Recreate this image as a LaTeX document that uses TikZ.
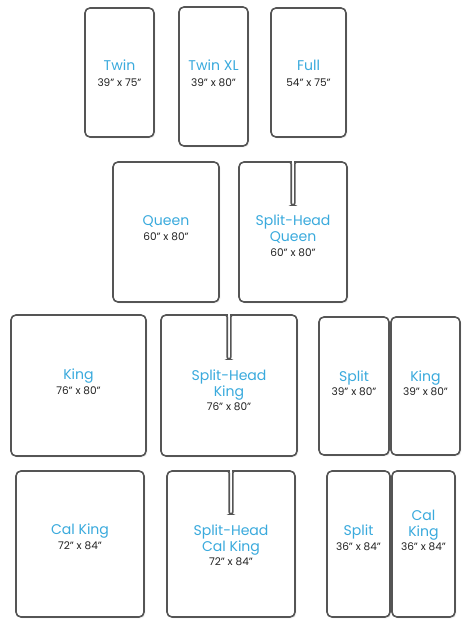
\documentclass[tikz,border=0pt]{standalone}
\usepackage{fontspec}
\setmainfont{Poppins}
\usetikzlibrary{calc, shadows}
\definecolor{bedgray}{HTML}{555555}
\definecolor{namecyan}{HTML}{3AAADD}
\definecolor{sizegray}{HTML}{222222}
\tikzstyle{bed} = [rectangle, rounded corners=3.5pt, draw=bedgray, line width=0.4mm, fill=white, inner sep=0pt, outer sep=0pt, drop shadow={shadow xshift=0.35mm, shadow yshift=-0.35mm, opacity=0.12}]
\tikzstyle{bedname} = [anchor=base, inner sep=0pt, align=center, text=namecyan, font=\fontsize{10}{10.7}\selectfont]
\tikzstyle{bedsize} = [anchor=base, inner sep=0pt, text=sizegray, font=\fontsize{7.5}{9}\selectfont]
\tikzstyle{notch} = [draw=bedgray, line width=0.4mm, rounded corners=1.5pt]
\tikzset{wh/.style 2 args={minimum width=#1*0.25mm, minimum height=#2*0.25mm}}

\begin{document}
\begin{tikzpicture}[x=0.25mm, y=-0.25mm]
    \fill[white] (0,0) rectangle (474,634);
    \useasboundingbox (0,0) rectangle (474,634);

    % first row
    \node (twin) [bed, wh={69}{129}] at (119.5,72.5) {};
    \node (twinxl) [bed, wh={69}{139}] at (213.5,76.5) {};
    \node (full) [bed, wh={75}{129}] at (308.5,72.5) {};

    \node (twin-name) [bedname] at (119.5,71) {Twin};
    \node (twin-size) [bedsize] at (119.5,87) {39” x 75”};
    \node (twinxl-name) [bedname] at (213.5,71) {Twin XL};
    \node (twinxl-size) [bedsize] at (213.5,87) {39” x 80”};
    \node (full-name) [bedname] at (308.5,71) {Full};
    \node (full-size) [bedsize] at (308.5,87) {54” x 75”};

    % second row
    \node (queen) [bed, wh={106}{140}] at (166,232) {};
    \node (shqueen) [bed, wh={108}{140}] at (293,232) {};

    \node (queen-name) [bedname] at (166,225) {Queen};
    \node (queen-size) [bedsize] at (166,240) {60” x 80”};
    \node (shqueen-name) [bedname] at (293,241) {Split-Head\\Queen};
    \node (shqueen-size) [bedsize] at (293,256) {60” x 80”};

    % third row
    \node (king) [bed, wh={135}{141}] at (78.5,385.5) {};
    \node (shking) [bed, wh={136}{141}] at (229,385.5) {};
    \node (splitk) [bed, wh={70}{138}] at (354,386) {};
    \node (kingk) [bed, wh={69}{138}] at (425.5,386) {};

    \node (king-name) [bedname] at (78.5,379) {King};
    \node (king-size) [bedsize] at (78.5,394) {76” x 80”};
    \node (shking-name) [bedname] at (229,396) {Split-Head\\King};
    \node (shking-size) [bedsize] at (229,410) {76” x 80”};
    \node (splitk-name) [bedname] at (354,381) {Split};
    \node (splitk-size) [bedsize] at (354,395) {39” x 80”};
    \node (kingk-name) [bedname] at (425.5,381) {King};
    \node (kingk-size) [bedsize] at (425.5,395) {39” x 80”};

    % fourth row
    \node (calking) [bed, wh={128}{146}] at (80,544) {};
    \node (shcalking) [bed, wh={128}{146}] at (231,544) {};
    \node (splitc) [bed, wh={63}{146}] at (358.5,544) {};
    \node (calkingc) [bed, wh={63}{146}] at (423.5,544) {};

    \node (calking-name) [bedname] at (80,534) {Cal King};
    \node (calking-size) [bedsize] at (80,549) {72” x 84”};
    \node (shcalking-name) [bedname] at (231,551) {Split-Head\\Cal King};
    \node (shcalking-size) [bedsize] at (231,565) {72” x 84”};
    \node (splitc-name) [bedname] at (358.5,535) {Split};
    \node (splitc-size) [bedsize] at (358.5,550) {36” x 84”};
    \node (calkingc-name) [bedname] at (423.5,536) {Cal\\King};
    \node (calkingc-size) [bedsize] at (423.5,550) {36” x 84”};

    % split heads
    \fill[white] ($(shqueen.north)+(-1.2,-2)$) rectangle ($(shqueen.north)+(1.2,2)$);
    \draw[notch] ($(shqueen.north)+(-6,0)$) -- ($(shqueen.north)+(-1.8,0)$) -- ++(0,43) -- ++(3.6,0) -- ($(shqueen.north)+(1.8,0)$) -- ($(shqueen.north)+(6,0)$);

    \fill[white] ($(shking.north)+(-1.2,-2)$) rectangle ($(shking.north)+(1.2,2)$);
    \draw[notch] ($(shking.north)+(-6,0)$) -- ($(shking.north)+(-1.8,0)$) -- ++(0,44) -- ++(3.6,0) -- ($(shking.north)+(1.8,0)$) -- ($(shking.north)+(6,0)$);

    \fill[white] ($(shcalking.north)+(-1.2,-2)$) rectangle ($(shcalking.north)+(1.2,2)$);
    \draw[notch] ($(shcalking.north)+(-6,0)$) -- ($(shcalking.north)+(-1.8,0)$) -- ++(0,43) -- ++(3.6,0) -- ($(shcalking.north)+(1.8,0)$) -- ($(shcalking.north)+(6,0)$);
\end{tikzpicture}
\end{document}
